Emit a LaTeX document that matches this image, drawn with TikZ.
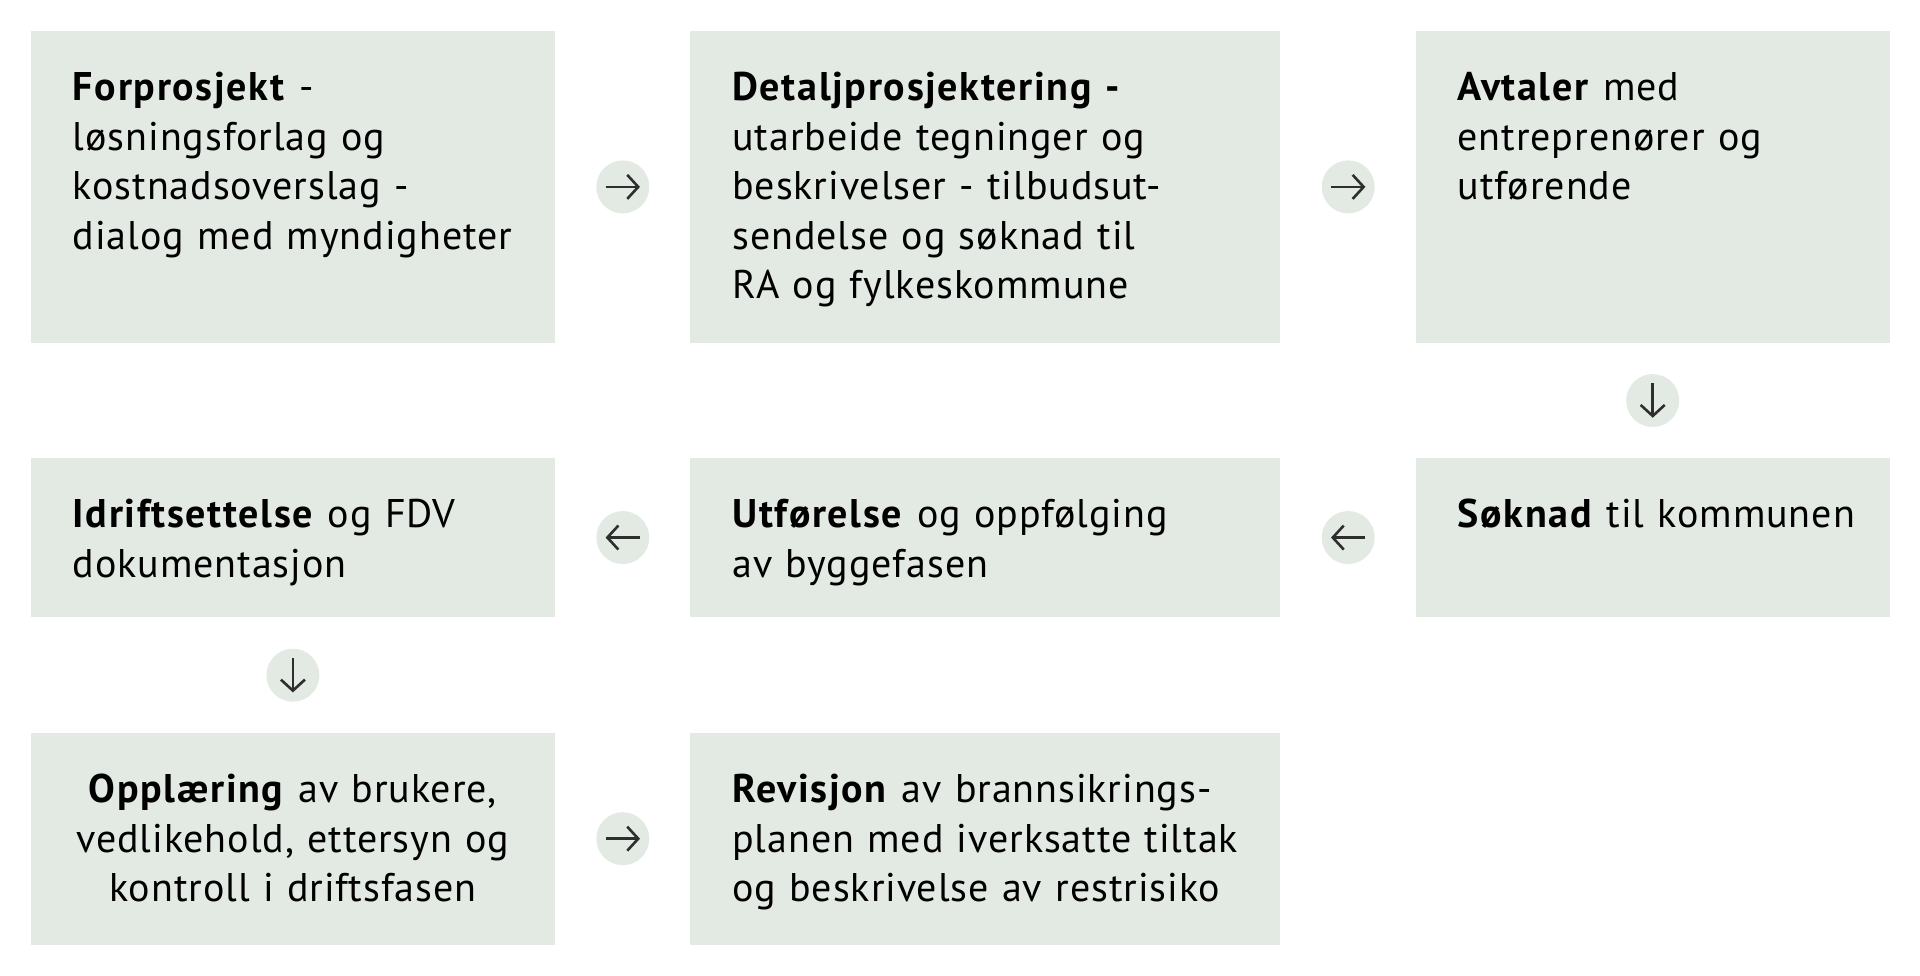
\documentclass[tikz,border=0pt]{standalone}
\usepackage{fontspec}
\setmainfont{PT Sans}[LetterSpace=2.3, BoldFeatures={LetterSpace=4.2}]
\usepackage{xcolor}
\usetikzlibrary{positioning,arrows.meta}

\definecolor{boxfill}{HTML}{E3E9E3}
\definecolor{arrowgray}{HTML}{2E2E2E}

\tikzset{
  stage/.style={fill=boxfill, inner xsep=42pt, inner ysep=0pt, align=left,
                text height=70pt, font=\fontsize{40}{49.5}\selectfont,
                execute at begin node={\rightskip=0pt plus 1fil minus 40pt\relax}},
  centred/.style={align=center,
                execute at begin node={\leftskip=0pt plus 1fil\rightskip=0pt plus 1fil\relax}},
  colA/.style={text width=440pt},
  colB/.style={text width=506pt},
  colC/.style={text width=390pt},
  rowA/.style={text depth=242pt},
  rowB/.style={text depth=89.5pt},
  rowC/.style={text depth=142pt},
  hop/.style={circle, fill=boxfill, minimum size=53pt, inner sep=0pt},
  flow/.style={draw=arrowgray, line width=2.6pt,
               -{Straight Barb[length=11pt, width=24pt]}}
}

\begin{document}
\begin{tikzpicture}[x=1pt, y=1pt]
  \useasboundingbox (0,0) rectangle (1920,-976);

  \node[stage,colA,rowA,anchor=north west] (forprosjekt) at (30.7,-30.7)
       {\textbf{Forprosjekt} -\\løsningsforlag og\\kostnadsoverslag -\\dialog med myndigheter};
  \node[stage,colB,rowA] (detalj)     [right=135pt of forprosjekt]
       {\textbf{Detaljprosjektering -}\\utarbeide tegninger og\\beskrivelser - tilbudsut-\\sendelse og søknad til\\RA og fylkeskommune};
  \node[stage,colC,rowA] (avtaler)    [right=135pt of detalj]
       {\textbf{Avtaler} med\\entreprenører og\\utførende};
  \node[stage,colC,rowB] (soknad)     [below=114.5pt of avtaler]
       {\textbf{Søknad} til kommunen};
  \node[stage,colB,rowB] (utforelse)  [below=114.5pt of detalj]
       {\textbf{Utførelse} og oppfølging\\av byggefasen};
  \node[stage,colA,rowB] (idrift)     [below=114.5pt of forprosjekt]
       {\textbf{Idriftsettelse} og FDV\\dokumentasjon};
  \node[stage,colA,rowC,centred] (opplaering) [below=115pt of idrift]
       {\textbf{Opplæring} av brukere,\\vedlikehold, ettersyn og\\kontroll i driftsfasen};
  \node[stage,colB,rowC] (revisjon)   [below=115pt of utforelse]
       {\textbf{Revisjon} av brannsikrings-\\planen med iverksatte tiltak\\og beskrivelse av restrisiko};

  \node[hop] (hop1) [right=41pt of forprosjekt] {};
  \node[hop] (hop2) [right=41pt of detalj]      {};
  \node[hop] (hop3) [below=30.75pt of avtaler]  {};
  \node[hop] (hop4) [right=41pt of utforelse]   {};
  \node[hop] (hop5) [right=41pt of idrift]      {};
  \node[hop] (hop6) [below=31pt of idrift]      {};
  \node[hop] (hop7) [right=41pt of opplaering]  {};

  \draw[flow] ([xshift=9.5pt]hop1.west)   -- ([xshift=-9.5pt]hop1.east);
  \draw[flow] ([xshift=9.5pt]hop2.west)   -- ([xshift=-9.5pt]hop2.east);
  \draw[flow] ([yshift=-9.5pt]hop3.north) -- ([yshift=9.5pt]hop3.south);
  \draw[flow] ([xshift=-9.5pt]hop4.east)  -- ([xshift=9.5pt]hop4.west);
  \draw[flow] ([xshift=-9.5pt]hop5.east)  -- ([xshift=9.5pt]hop5.west);
  \draw[flow] ([yshift=-9.5pt]hop6.north) -- ([yshift=9.5pt]hop6.south);
  \draw[flow] ([xshift=9.5pt]hop7.west)   -- ([xshift=-9.5pt]hop7.east);
\end{tikzpicture}
\end{document}
